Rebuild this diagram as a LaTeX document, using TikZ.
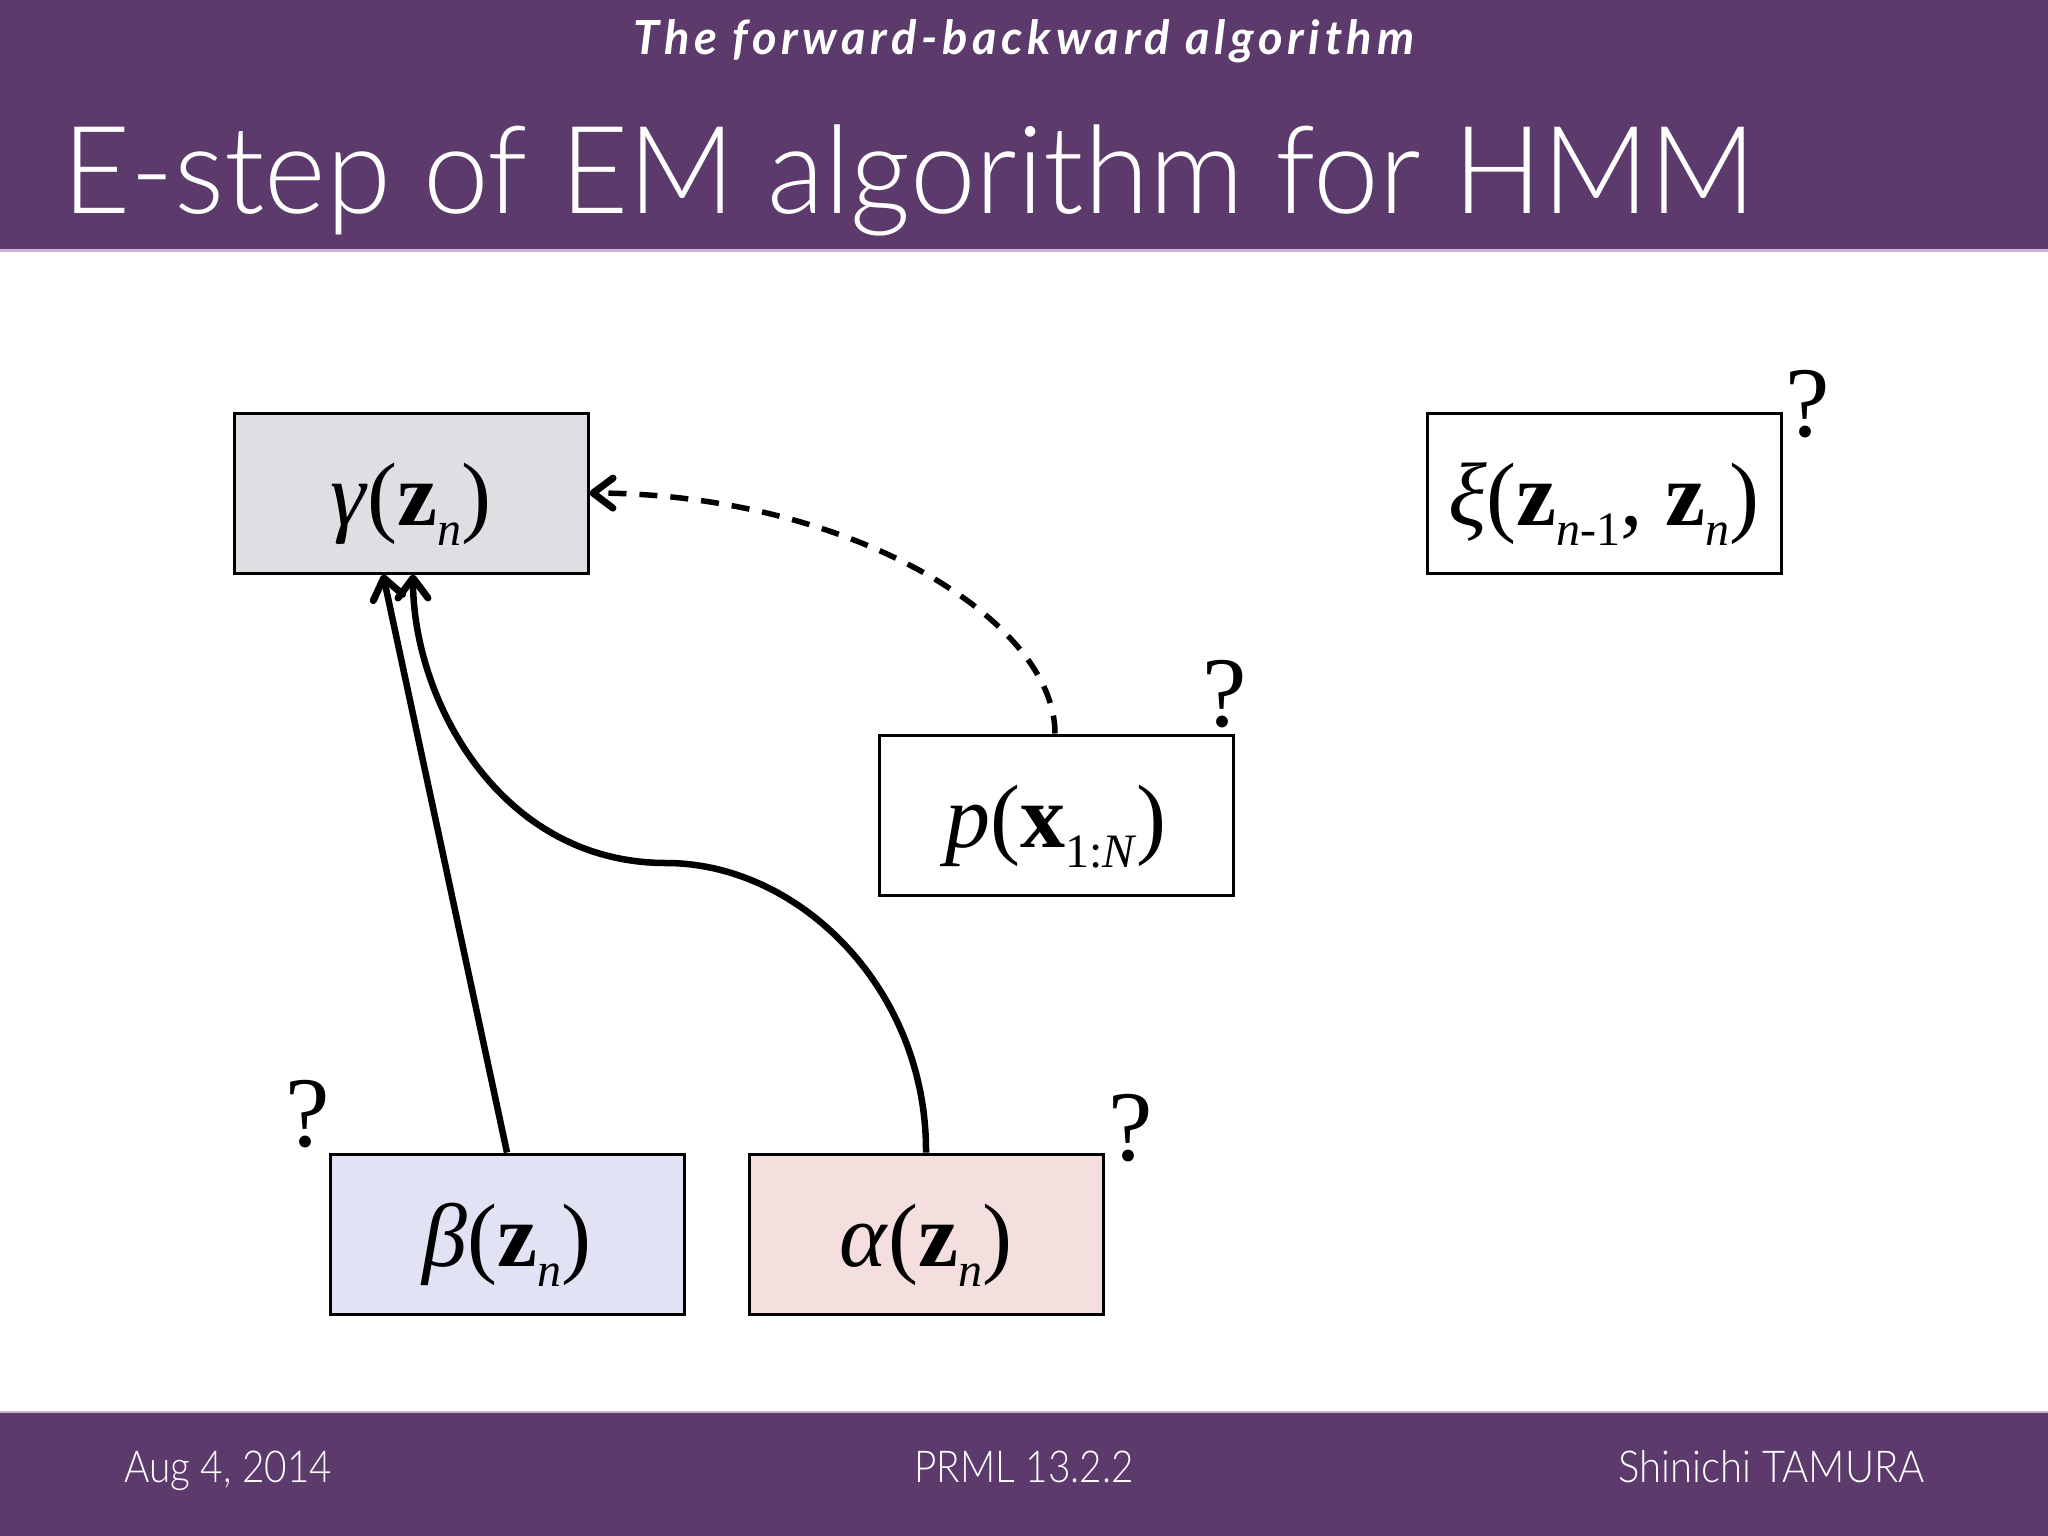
\documentclass[tikz,border=0pt]{standalone}
\usepackage{fontspec}
\usetikzlibrary{arrows.meta}
\setmainfont{Liberation Serif}
\newfontfamily\titlefont{Lato Light}
\newfontfamily\subtfont[LetterSpace=10]{Lato}
\definecolor{hdr}{RGB}{92,58,108}
\definecolor{hdrline}{RGB}{200,180,215}
\definecolor{gbox}{RGB}{224,222,226}
\definecolor{bbox}{RGB}{225,227,244}
\definecolor{abox}{RGB}{244,222,222}
\newcommand\lo[1]{\raisebox{-20pt}{\fontsize{48}{50}\selectfont #1}}
\newcommand\zz{\textbf{z}}
\begin{document}
\begin{tikzpicture}[x=1pt,y=-1pt,
  fbox/.style={draw=black,line width=3pt,minimum width=354pt,minimum height=160pt,inner sep=0pt,text height=64pt,text depth=0pt,font=\fontsize{90}{96}\selectfont},
  qmark/.style={font=\fontsize{100}{100}\selectfont,inner sep=0pt},
  arr/.style={line width=6.5pt,-{Straight Barb[length=20pt,width=30pt,line width=7pt,round]}},
  foot/.style={text=white,font=\titlefont\fontsize{44}{50}\selectfont,inner sep=0pt}]
\useasboundingbox (0,0) rectangle (2048,1536);
\fill[white] (0,0) rectangle (2048,1536);
% header
\fill[hdr] (0,0) rectangle (2048,251);
\fill[hdrline] (0,249) rectangle (2048,252);
\node[anchor=base,text=white,inner sep=0pt,font=\subtfont\bfseries\itshape\fontsize{47}{50}\selectfont] (subt) at (1024,55) {The forward-backward algorithm};
\node[anchor=base west,text=white,inner sep=0pt,font=\titlefont\fontsize{122}{130}\selectfont] (title) at (62,213) {\scalebox{0.966}[1]{E-step of EM algorithm for HMM}};
% footer
\fill[hdr] (0,1412) rectangle (2048,1536);
\fill[hdrline] (0,1411) rectangle (2048,1413);
\node[foot,anchor=base west] (date) at (124,1482) {\scalebox{0.88}[1]{Aug 4, 2014}};
\node[foot,anchor=base] (sect) at (1024,1482) {\scalebox{0.88}[1]{PRML 13.2.2}};
\node[foot,anchor=base east] (auth) at (1925,1482) {\scalebox{0.91}[1]{Shinichi TAMURA}};
% boxes
\node[fbox,fill=gbox] (gamma) at (411,493) {\textit{γ}(\zz\lo{\textit{n}})};
\node[fbox,fill=white] (xi) at (1604,493) {\textit{ξ}(\zz\lo{\textit{n}-1}, \zz\lo{\textit{n}})};
\node[fbox,fill=white] (p) at (1056,815) {\textit{p}(\textbf{x}\lo{1:\textit{N}})};
\node[fbox,fill=bbox] (beta) at (507,1234) {\textit{β}(\zz\lo{\textit{n}})};
\node[fbox,fill=abox] (alpha) at (926,1234) {\textit{α}(\zz\lo{\textit{n}})};
% question marks
\node[qmark] (q1) at (1808,404) {?};
\node[qmark] (q2) at (1225,694) {?};
\node[qmark] (q3) at (308,1114) {?};
\node[qmark] (q4) at (1131,1128) {?};
% connectors
\coordinate (mid) at (666,863);
\draw[arr] (beta.north) -- ([xshift=-28pt]gamma.south);
\draw[arr] (alpha.north) .. controls (927,990) and (800,863) .. (mid) .. controls (500,863) and (413,700) .. ([xshift=2pt]gamma.south);
\draw[arr,line width=5.5pt,dash pattern=on 18pt off 13pt] ([xshift=-1pt]p.north) .. controls (1055,620) and (850,494) .. (gamma.east);
\end{tikzpicture}
\end{document}
